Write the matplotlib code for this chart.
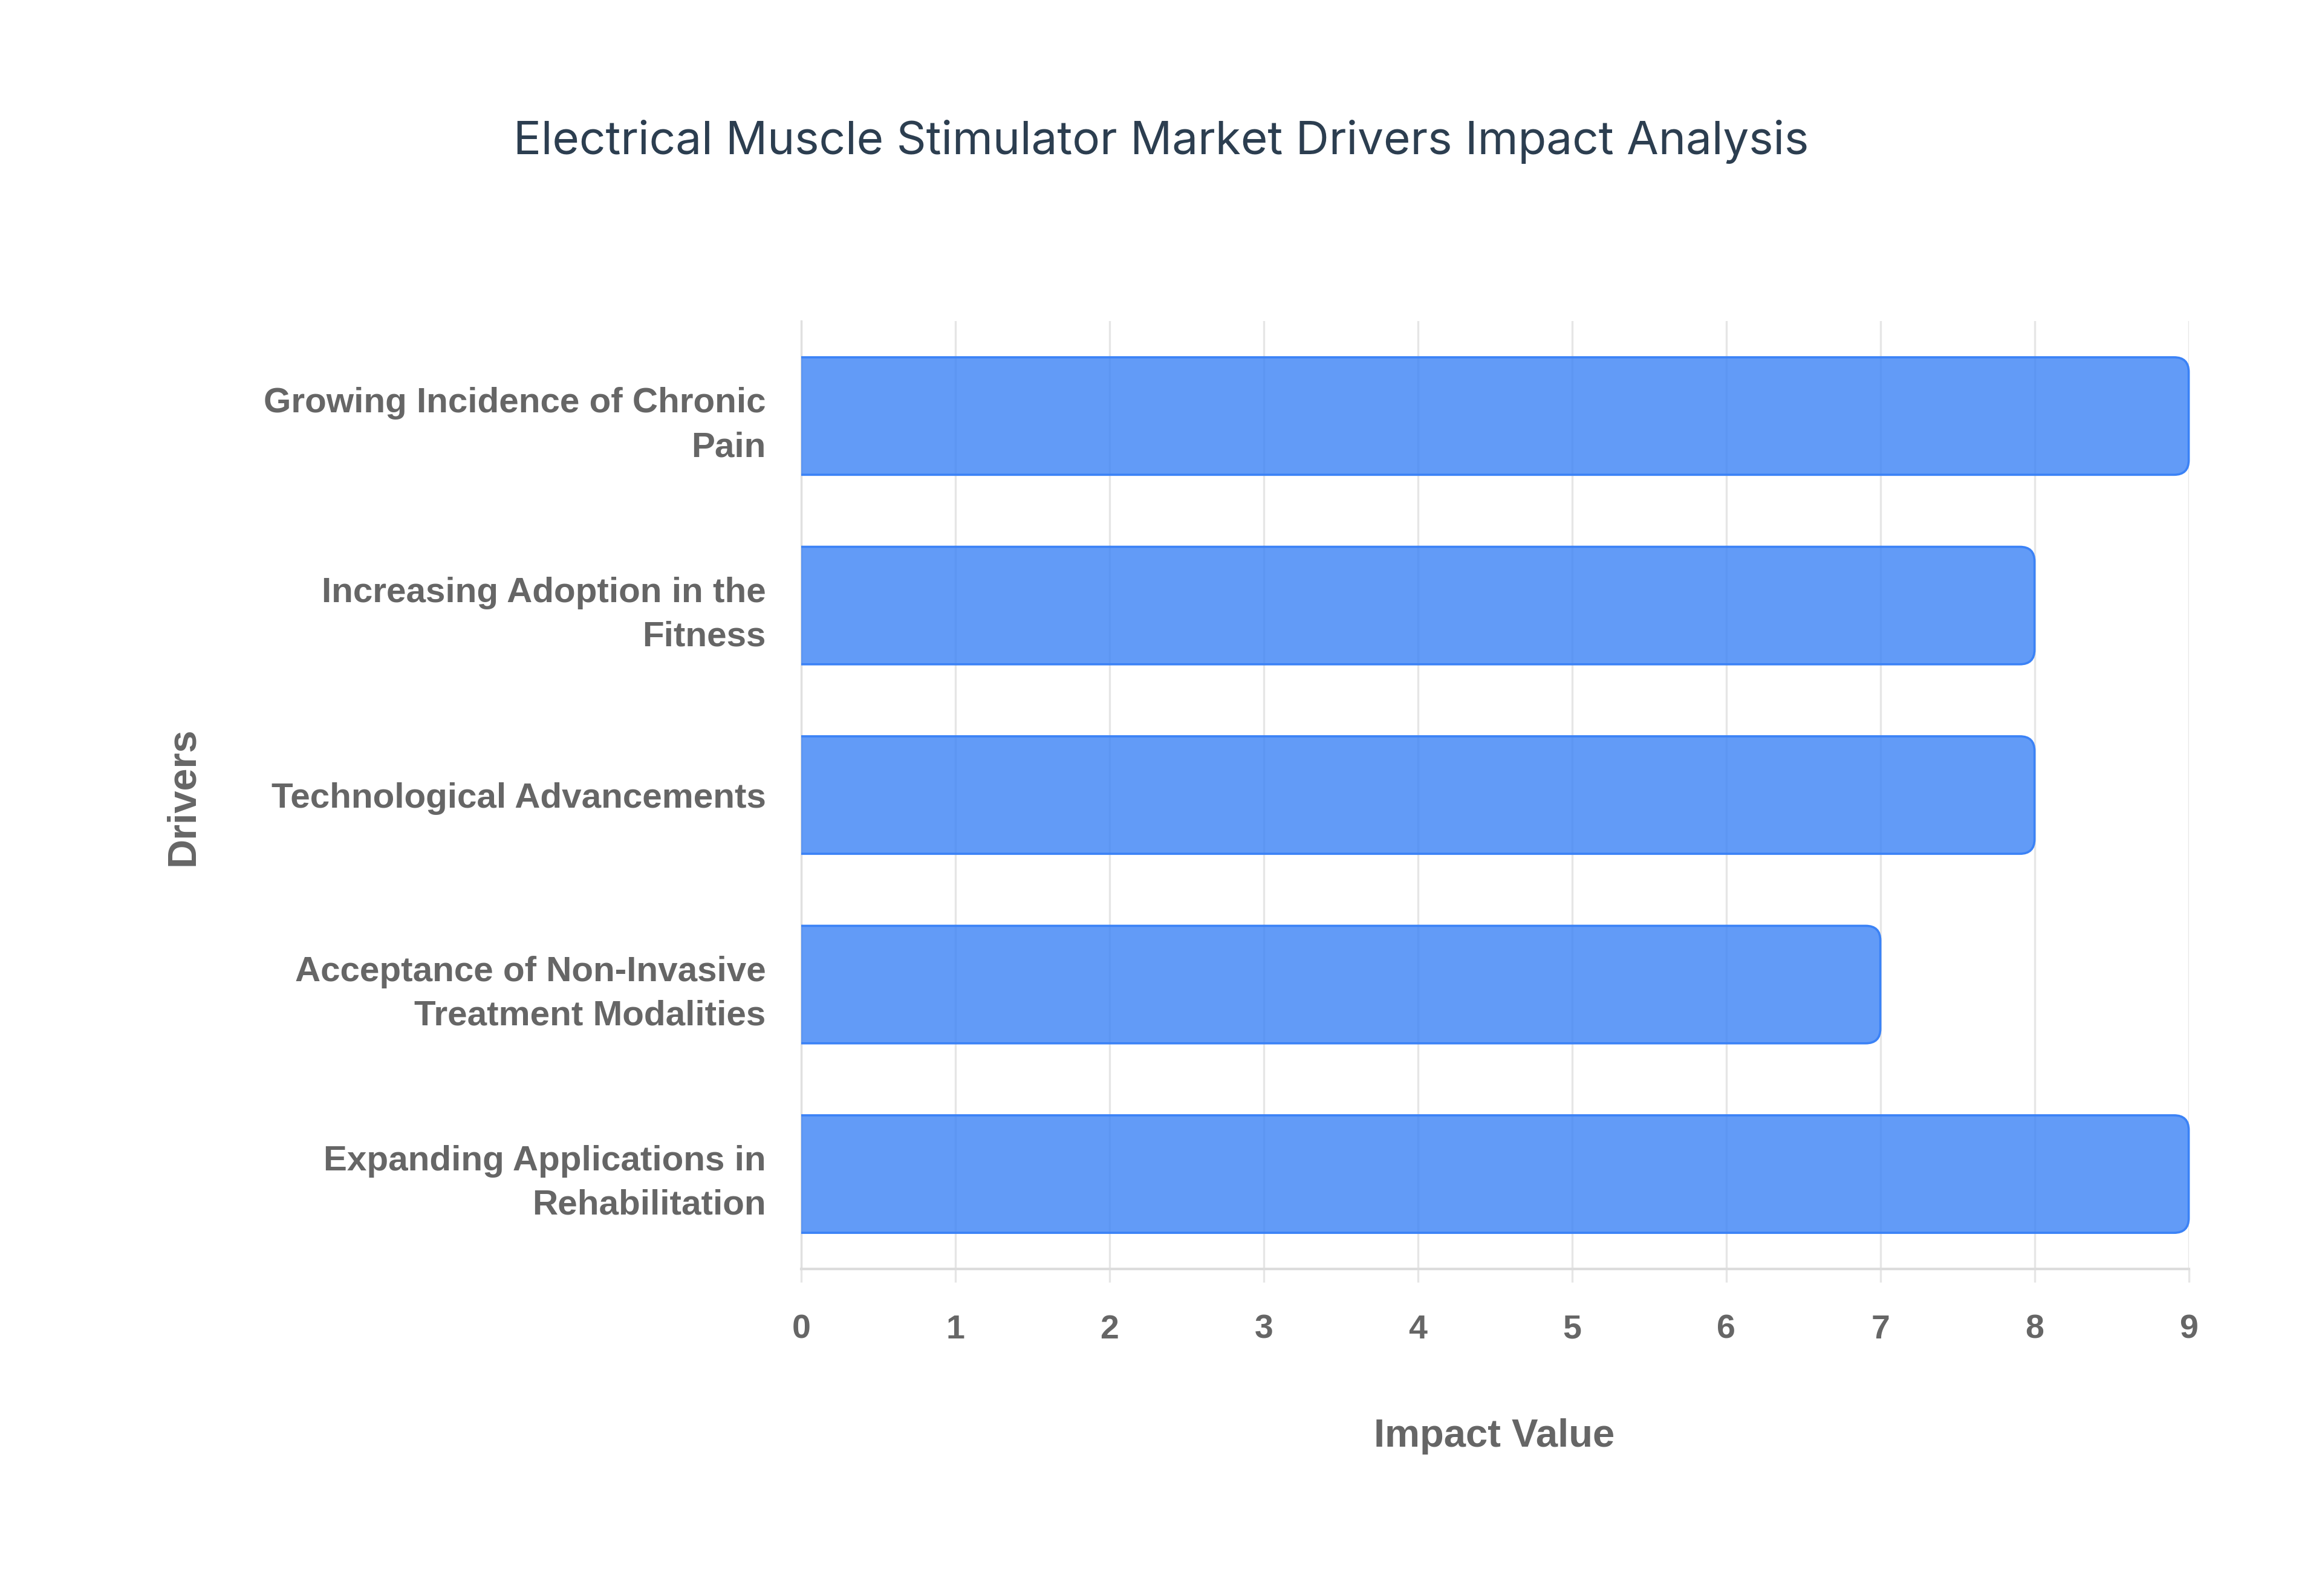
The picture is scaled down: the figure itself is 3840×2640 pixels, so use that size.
import matplotlib
matplotlib.use("Agg")
import matplotlib.pyplot as plt
from matplotlib.patches import FancyBboxPatch, Rectangle

# data
drivers = [
    "Growing Incidence of Chronic\nPain",
    "Increasing Adoption in the\nFitness",
    "Technological Advancements",
    "Acceptance of Non-Invasive\nTreatment Modalities",
    "Expanding Applications in\nRehabilitation",
]
impact = [9, 8, 8, 7, 9]
x_ticks = list(range(0, 10))

title = "Electrical Muscle Stimulator Market Drivers Impact Analysis"
label_font = ["Liberation Sans", "DejaVu Sans"]
gray = "#666666"

fig_w, fig_h, dpi = 19.2, 13.2, 200
fig = plt.figure(figsize=(fig_w, fig_h), dpi=dpi)
left, right, bottom, top = 0.345, 0.9426, 0.205, 0.7987
ax = fig.add_axes([left, bottom, right - left, top - bottom])

bars = ax.barh(drivers, impact, height=0.62, color="none", edgecolor="none")
ax.set_xlim(0, 9)
ax.set_ylim(-0.5, len(drivers) - 0.5)
ax.invert_yaxis()

# rounded right ends, square left ends (left part clipped at x=0)
px_x = (right - left) * fig_w * dpi / 9
px_y = (top - bottom) * fig_h * dpi / len(drivers)
aspect = px_x / px_y
r = 0.095
clip = Rectangle((0, -0.5), 20, len(drivers), transform=ax.transData)
for b in bars:
    x, y, w, h = b.get_x(), b.get_y(), b.get_width(), b.get_height()
    p = FancyBboxPatch((x - 0.5, y), w + 0.5, h,
                       boxstyle=f"round,pad=0,rounding_size={r}",
                       mutation_aspect=aspect,
                       facecolor=(59 / 255, 130 / 255, 246 / 255, 0.8),
                       edgecolor=(59 / 255, 130 / 255, 246 / 255, 1.0),
                       linewidth=1.3, zorder=3)
    ax.add_patch(p)
    p.set_clip_path(clip)

ax.set_xticks(x_ticks)
ax.grid(axis="x", color="#e6e6e6", linewidth=1.2, zorder=0)
ax.set_axisbelow(True)
for s in ["top", "right"]:
    ax.spines[s].set_visible(False)
ax.spines["left"].set_color("#e0e0e0")
ax.spines["bottom"].set_color("#dcdcdc")
ax.spines["left"].set_linewidth(1.2)
ax.spines["bottom"].set_linewidth(1.5)

ax.tick_params(axis="x", length=8, width=1.2, color="#e6e6e6", pad=19,
               labelsize=20, labelcolor=gray)
ax.tick_params(axis="y", length=0, pad=21, labelsize=21, labelcolor=gray)
for t in ax.get_xticklabels() + ax.get_yticklabels():
    t.set_fontfamily(label_font)
    t.set_fontweight("bold")
for t in ax.get_yticklabels():
    t.set_linespacing(1.45)

fig.text(0.5, 0.911, title, ha="center", va="center", fontsize=27.5,
         color="#2c3e50", family=["Inter", "DejaVu Sans"])
fig.text(0.6435, 0.1, "Impact Value", ha="center", va="center", fontsize=23.5,
         color=gray, fontweight="bold", family=label_font)
fig.text(0.079, 0.501, "Drivers", ha="center", va="center", fontsize=24,
         color=gray, fontweight="bold", family=label_font, rotation=90)

fig.savefig("out.png", dpi=dpi, facecolor="white")
